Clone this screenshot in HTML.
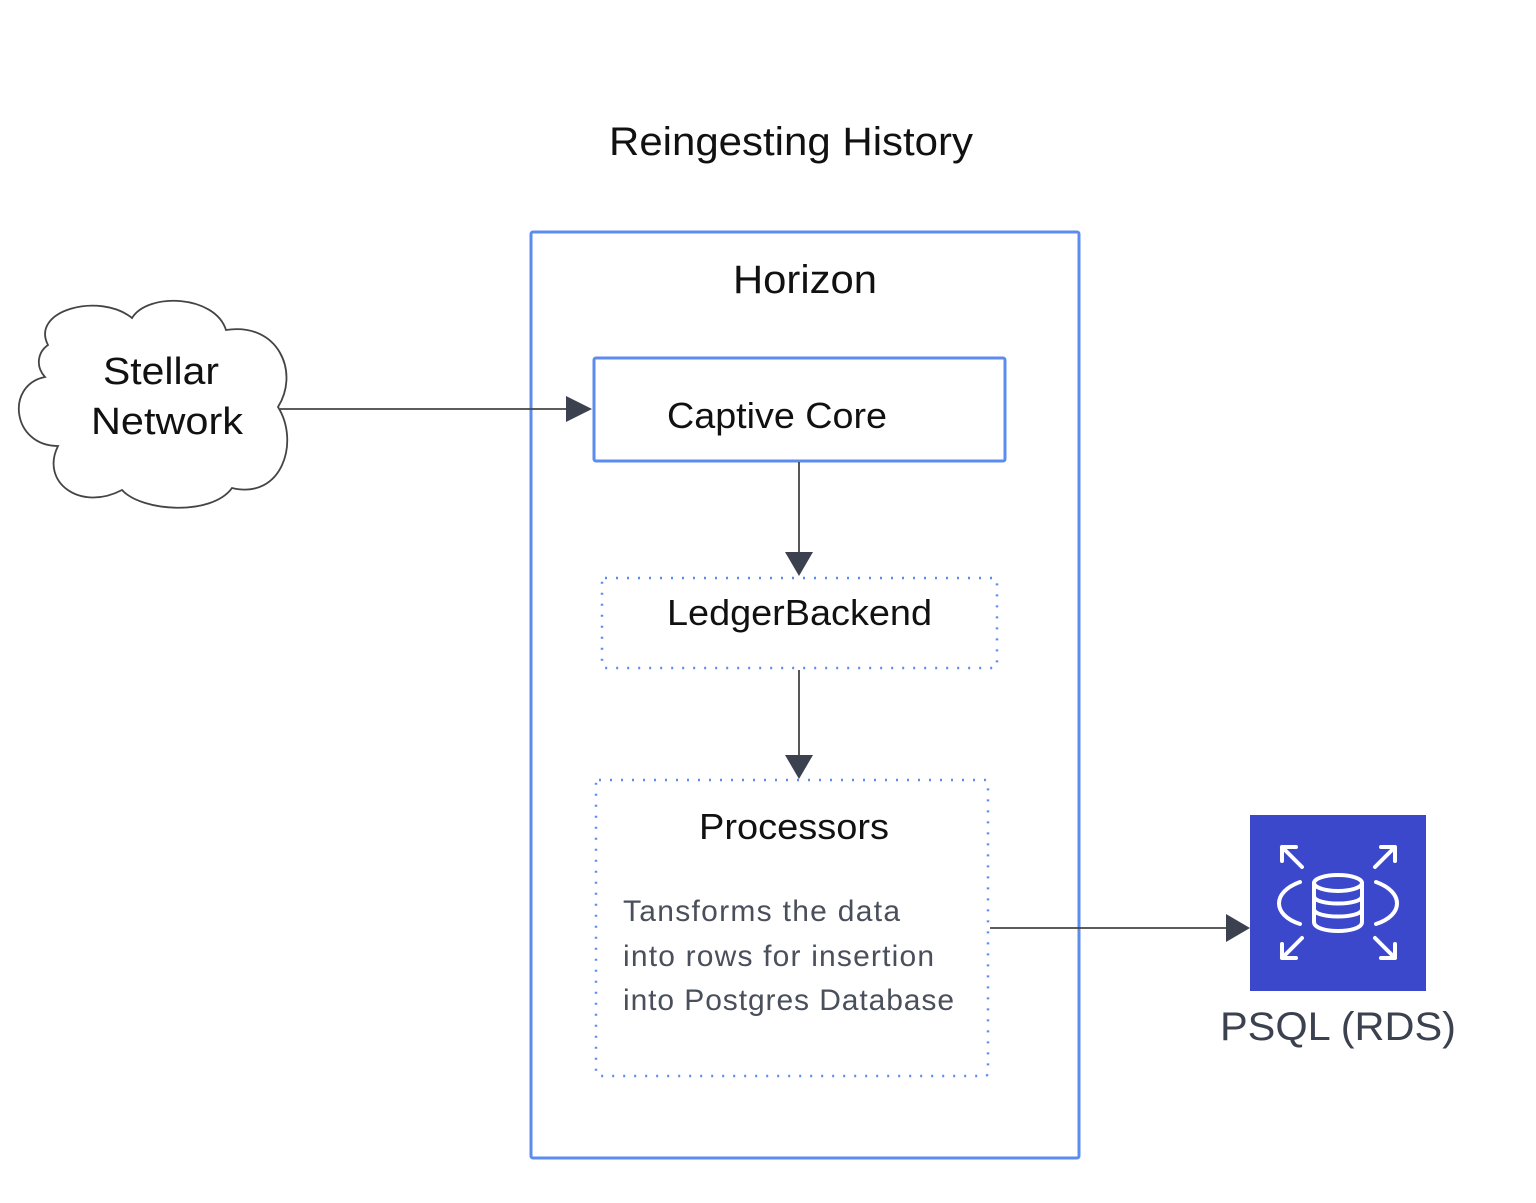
<!DOCTYPE html>
<html><head><style>body{margin:0;background:#fff}svg{display:block}</style></head><body>
<svg width="1536" height="1203" viewBox="0 0 1536 1203" xmlns="http://www.w3.org/2000/svg" font-family="Liberation Sans, Arial, sans-serif">
<rect width="1536" height="1203" fill="#fff"/>
<text x="609" y="155" font-size="40" textLength="364" lengthAdjust="spacingAndGlyphs" fill="#111">Reingesting History</text>
<rect x="531" y="232" width="548" height="926" fill="none" stroke="#5b8def" stroke-width="3" rx="2"/>
<text x="733" y="293" font-size="40" textLength="144" lengthAdjust="spacingAndGlyphs" fill="#111">Horizon</text>
<path d="M48 345 C30 310,100 292,132 318 C148 292,215 295,226 330 C278 322,300 372,278 407 C300 442,282 500,232 488 C212 516,142 512,122 490 C80 512,40 482,58 446 C12 446,5 385,45 377 C35 366,38 352,48 345 Z" fill="#fff" stroke="#444" stroke-width="1.8"/>
<text x="103" y="384" font-size="38" textLength="116" lengthAdjust="spacingAndGlyphs" fill="#111">Stellar</text>
<text x="91" y="434" font-size="38" textLength="152" lengthAdjust="spacingAndGlyphs" fill="#111">Network</text>
<line x1="280" y1="409" x2="570" y2="409" stroke="#444" stroke-width="1.8"/>
<polygon points="566,396 592,409 566,422" fill="#3c4150"/>
<rect x="594" y="358" width="411" height="103" fill="#fff" stroke="#5b8def" stroke-width="3" rx="2"/>
<text x="667" y="428" font-size="36" textLength="220" lengthAdjust="spacingAndGlyphs" fill="#111">Captive Core</text>
<line x1="799" y1="462" x2="799" y2="555" stroke="#444" stroke-width="1.8"/>
<polygon points="785,552 799,576 813,552" fill="#3c4150"/>
<rect x="602" y="578" width="395" height="90" fill="none" stroke="#5b8def" stroke-width="2.5" stroke-dasharray="2 9" rx="3"/>
<text x="667" y="625" font-size="36" textLength="265" lengthAdjust="spacingAndGlyphs" fill="#111">LedgerBackend</text>
<line x1="799" y1="670" x2="799" y2="758" stroke="#444" stroke-width="1.8"/>
<polygon points="785,755 799,779 813,755" fill="#3c4150"/>
<rect x="596" y="780" width="392" height="296" fill="none" stroke="#5b8def" stroke-width="2.5" stroke-dasharray="2 9" rx="3"/>
<text x="699" y="839" font-size="36" textLength="190" lengthAdjust="spacingAndGlyphs" fill="#111">Processors</text>
<g font-size="30" fill="#4a4f5c" lengthAdjust="spacingAndGlyphs">
<text x="623" y="921" textLength="277">Tansforms the data</text>
<text x="623" y="966" textLength="311">into rows for insertion</text>
<text x="623" y="1010" textLength="331">into Postgres Database</text>
</g>
<line x1="990" y1="928" x2="1230" y2="928" stroke="#444" stroke-width="1.8"/>
<polygon points="1226,914 1250,928 1226,942" fill="#3c4150"/>
<rect x="1250" y="815" width="176" height="176" fill="#3b48cc"/>
<g stroke="#fff" stroke-width="4" fill="none" stroke-linecap="round" stroke-linejoin="round">
<path d="M1282 847 L1302 867 M1282 847 h14 M1282 847 v14"/>
<path d="M1395 847 L1375 867 M1395 847 h-14 M1395 847 v14"/>
<path d="M1282 958 L1302 938 M1282 958 h14 M1282 958 v-14"/>
<path d="M1395 958 L1375 938 M1395 958 h-14 M1395 958 v-14"/>
<path d="M1300 882 C1272 892,1272 915,1300 924"/>
<path d="M1376 882 C1404 892,1404 915,1376 924"/>
<ellipse cx="1338" cy="883" rx="24" ry="8"/>
<path d="M1314 883 V922 C1314 934,1362 934,1362 922 V883 M1314 896 C1314 906,1362 906,1362 896 M1314 909 C1314 919,1362 919,1362 909"/>
</g>
<text x="1220" y="1040" font-size="40" textLength="236" lengthAdjust="spacingAndGlyphs" fill="#3c4150">PSQL (RDS)</text>
</svg>
</body></html>
